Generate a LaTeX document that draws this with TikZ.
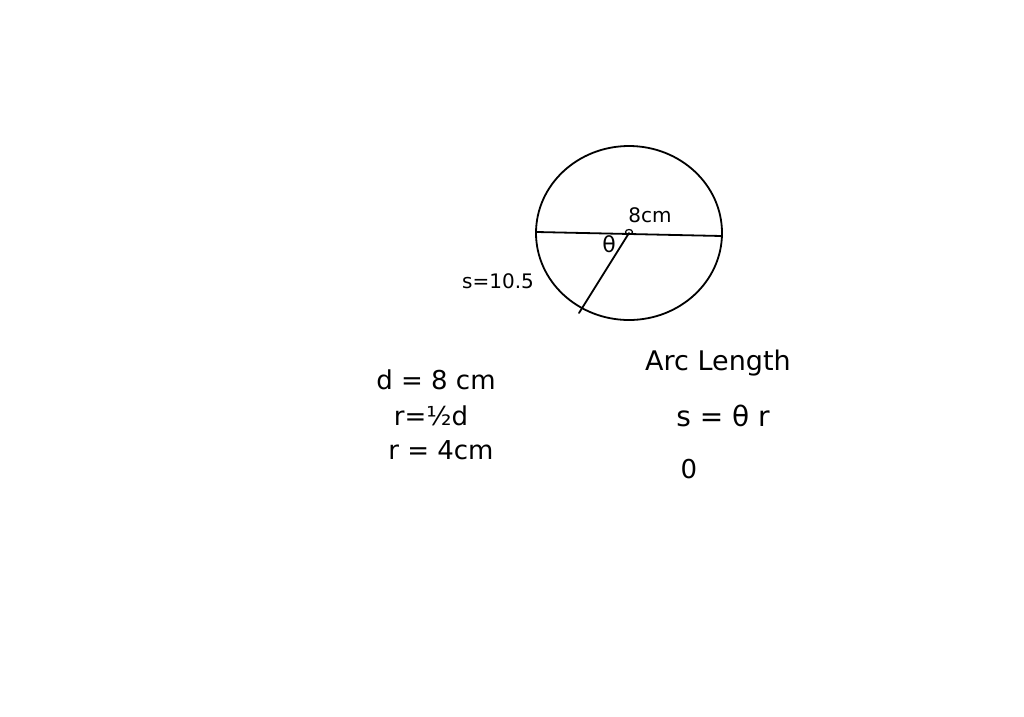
\documentclass[tikz,border=0pt]{standalone}
\usepackage{fontspec}
\setmainfont{DejaVu Sans}
\begin{document}
\begin{tikzpicture}[x=1pt,y=-1pt,
  ink/.style={line width=1.8pt,line cap=round,line join=round,black},
  big/.style={font=\fontsize{26}{28}\selectfont,inner sep=0pt},
  small/.style={font=\fontsize{20}{22}\selectfont,inner sep=0pt}]
\useasboundingbox[fill=white] (0,0) rectangle (1024,716);
% circle
\coordinate (ctr) at (629,233);
\draw[ink] (ctr) ellipse [x radius=93, y radius=87];
\coordinate (dl) at (537,232);
\coordinate (dr) at (722,236);
\coordinate (rb) at (579,313);
\draw[ink] (dl) -- (dr);
\draw[ink] (ctr) -- (rb);
\draw[line width=1.2pt] (629,232) ellipse [x radius=3.5, y radius=2.5];
\node[small] (lab8) at (650,215) {8cm};
\node[font=\fontsize{22}{24}\selectfont,inner sep=0pt] (theta) at (609,244) {θ};
\node[small] (slab) at (498,281) {s=10.5};
% left equations
\node[big] (e1) at (436,380) {d = 8 cm};
\node[big] (e2) at (431,416) {r=½d};
\node[big] (e3) at (441,450) {r = 4cm};
% right equations
\node[big,font=\fontsize{27}{29}\selectfont] (a1) at (718,363) {Arc Length};
\node[big,font=\fontsize{28}{30}\selectfont] (a2) at (723,416) {s = θ r};
\node[big] (a3) at (689,469) {0};
\end{tikzpicture}
\end{document}
